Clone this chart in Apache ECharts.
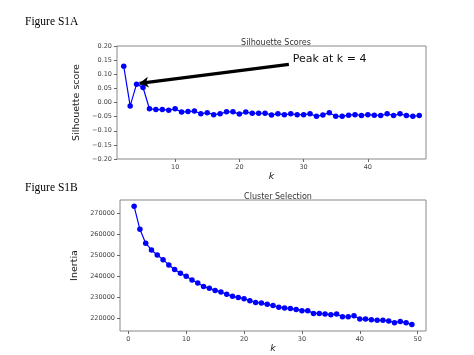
<!DOCTYPE html>
<html><head><meta charset="utf-8">
<script src="https://cdn.jsdelivr.net/npm/echarts@6/dist/echarts.min.js"></script>
<style>html,body{margin:0;padding:0;background:#fff}#c{width:474px;height:355px}</style>
</head><body><div id="c"></div>
<script>
// Figure S1A: silhouette scores, k = 2..48
const silK = [2,3,4,5,6,7,8,9,10,11,12,13,14,15,16,17,18,19,20,21,22,23,24,25,26,27,28,29,30,31,32,33,34,35,36,37,38,39,40,41,42,43,44,45,46,47,48];
const silScore = [0.128,-0.012,0.065,0.053,-0.022,-0.025,-0.025,-0.027,-0.022,-0.034,-0.032,-0.030,-0.040,-0.036,-0.043,-0.040,-0.033,-0.033,-0.041,-0.034,-0.038,-0.038,-0.038,-0.044,-0.040,-0.043,-0.040,-0.043,-0.043,-0.040,-0.049,-0.044,-0.036,-0.049,-0.049,-0.045,-0.043,-0.046,-0.043,-0.045,-0.046,-0.040,-0.046,-0.040,-0.046,-0.049,-0.046];
// Figure S1B: inertia, k = 1..49
const inK = [1,2,3,4,5,6,7,8,9,10,11,12,13,14,15,16,17,18,19,20,21,22,23,24,25,26,27,28,29,30,31,32,33,34,35,36,37,38,39,40,41,42,43,44,45,46,47,48,49];
const inertia = [273300,262400,255800,252600,250200,248000,245500,243300,241500,240100,238400,236900,235300,234400,233400,232700,231600,230600,230000,229500,228500,227700,227400,226800,226200,225400,225100,224800,224400,223800,223800,222500,222500,222200,221900,222200,220900,220900,221400,219800,219800,219500,219200,219200,218900,218100,218600,218100,217200];
const silTicksY = [-0.20,-0.15,-0.10,-0.05,0.00,0.05,0.10,0.15,0.20];
const silTicksX = [10,20,30,40];
const inTicksX = [0,10,20,30,40,50];
const inTicksY = [220000,230000,240000,250000,260000,270000];
const peakText = 'Peak at k = 4';
const peakK = 4, peakV = 0.065;

const FONT = 'DejaVu Sans';
const tickLbl = {fontFamily: FONT, fontSize: 6.5, color: '#444'};
const chart = echarts.init(document.getElementById('c'), null, {renderer: 'canvas'});
const fmtMinus = v => (Math.abs(v) < 1e-9 ? '0.00' : v.toFixed(2).replace('-', '\u2212'));

function xAxisDef(gi, min, max, ticks, gap) {
  return {
    type: 'value', gridIndex: gi, min: min, max: max, position: 'bottom',
    name: 'k', nameLocation: 'middle', nameGap: gap,
    nameTextStyle: {fontFamily: FONT, fontSize: 9.5, fontStyle: 'italic', color: '#222'},
    axisLine: {show: false, onZero: false},
    axisTick: {show: true, inside: false, length: 3, lineStyle: {color: '#666'}, customValues: ticks},
    axisLabel: Object.assign({margin: 5, customValues: ticks}, tickLbl),
    splitLine: {show: false}
  };
}

const option = {
  animation: false,
  backgroundColor: '#fff',
  title: [
    {text: 'Silhouette Scores', left: 271, top: 34, textAlign: 'center',
     textStyle: {fontFamily: FONT, fontSize: 8, fontWeight: 'normal', color: '#333'}},
    {text: 'Cluster Selection', left: 273, top: 188, textAlign: 'center',
     textStyle: {fontFamily: FONT, fontSize: 8, fontWeight: 'normal', color: '#333'}}
  ],
  graphic: [
    {type: 'text', left: 25, top: 16, style: {text: 'Figure S1A', font: '11.5px "Liberation Serif"', fill: '#000'}},
    {type: 'text', left: 25, top: 182, style: {text: 'Figure S1B', font: '11.5px "Liberation Serif"', fill: '#000'}}
  ],
  grid: [
    {left: 117, top: 46, width: 309, height: 113, show: true, borderColor: '#888', borderWidth: 1, backgroundColor: '#fff'},
    {left: 120, top: 200, width: 306, height: 131, show: true, borderColor: '#888', borderWidth: 1, backgroundColor: '#fff'}
  ],
  xAxis: [
    xAxisDef(0, 0.95, 49.05, silTicksX, 13),
    xAxisDef(1, -1.44, 51.44, inTicksX, 12)
  ],
  yAxis: [
    {type: 'value', gridIndex: 0, min: -0.2, max: 0.2, interval: 0.05, position: 'left',
     name: 'Silhouette score', nameLocation: 'middle', nameGap: 29,
     nameTextStyle: {fontFamily: FONT, fontSize: 9.5, color: '#222'},
     axisLine: {show: false, onZero: false},
     axisTick: {show: true, inside: false, length: 3, lineStyle: {color: '#666'}},
     axisLabel: Object.assign({margin: 5, formatter: fmtMinus}, tickLbl),
     splitLine: {show: false}},
    {type: 'value', gridIndex: 1, min: 214150, max: 276300, position: 'left',
     name: 'Inertia', nameLocation: 'middle', nameGap: 33,
     nameTextStyle: {fontFamily: FONT, fontSize: 9.5, color: '#222'},
     axisLine: {show: false, onZero: false},
     axisTick: {show: true, inside: false, length: 3, lineStyle: {color: '#666'}, customValues: inTicksY},
     axisLabel: Object.assign({margin: 5, customValues: inTicksY, formatter: v => String(v)}, tickLbl),
     splitLine: {show: false}}
  ],
  series: [
    {type: 'line', xAxisIndex: 0, yAxisIndex: 0,
     data: silK.map((k, i) => [k, silScore[i]]),
     symbol: 'circle', symbolSize: 5.5, showAllSymbol: true,
     lineStyle: {color: '#0000ff', width: 1.2}, itemStyle: {color: '#0000ff'},
     emphasis: {disabled: true},
     markLine: {
       silent: true, symbol: ['none', 'arrow'], symbolSize: [8, 9], animation: false,
       lineStyle: {color: '#000', width: 3.2, type: 'solid'},
       label: {show: false},
       data: [[{coord: [27.7, 0.135]}, {coord: [peakK + 0.45, peakV + 0.003]}]]
     },
     markPoint: {
       silent: true, symbol: 'circle', symbolSize: 0,
       data: [{coord: [28.3, 0.155]}],
       label: {show: true, position: 'right', distance: 0, formatter: peakText,
               fontFamily: FONT, fontSize: 11, color: '#111'}
     }},
    {type: 'line', xAxisIndex: 1, yAxisIndex: 1,
     data: inK.map((k, i) => [k, inertia[i]]),
     symbol: 'circle', symbolSize: 5.5, showAllSymbol: true,
     lineStyle: {color: '#0000ff', width: 1.2}, itemStyle: {color: '#0000ff'},
     emphasis: {disabled: true}}
  ]
};
chart.setOption(option);
</script></body></html>
